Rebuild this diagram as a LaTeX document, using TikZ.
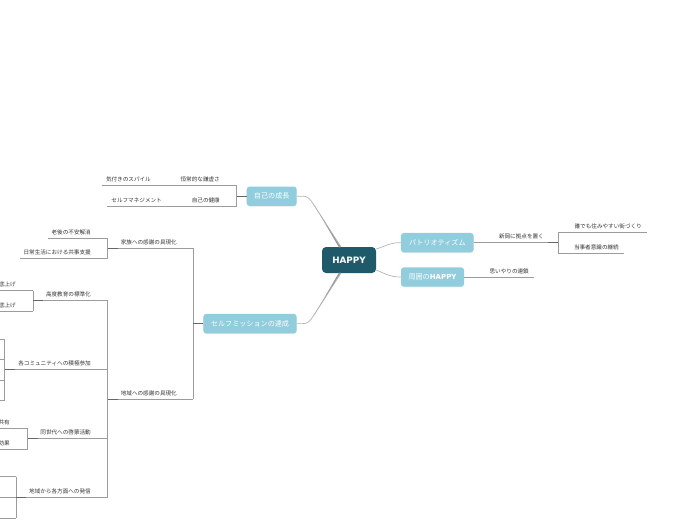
\documentclass[tikz,border=0pt]{standalone}
\usepackage{fontspec}
\setmainfont{Noto Sans CJK JP}
\newfontfamily\latinbold{DejaVu Sans Bold}
\usetikzlibrary{shadows}
\definecolor{roottopic}{HTML}{1F5A6B}
\definecolor{maintopic}{HTML}{91CDDD}
\definecolor{linkgray}{HTML}{B4B4B4}
\definecolor{subline}{HTML}{9C9C9C}
\definecolor{stubline}{HTML}{666666}
\tikzset{
    root/.style={fill=roottopic,text=white,rounded corners=4pt,inner sep=0pt,font=\fontsize{8.8}{10}\selectfont\latinbold},
    topic/.style={fill=maintopic,text=white,rounded corners=3pt,inner sep=0pt,minimum height=19.4pt,font=\fontsize{7.1}{8}\selectfont,drop shadow={shadow xshift=0pt,shadow yshift=-0.7pt,opacity=.18}},
    leaf/.style={anchor=east,inner sep=0pt,text=black!80,font=\fontsize{5.6}{6}\selectfont},
    branch/.style={draw=subline,line width=0.7pt},
    stub/.style={draw=stubline,line width=0.9pt},
    link/.style={draw=linkgray,line width=0.7pt},
}
\begin{document}
\begin{tikzpicture}[x=1pt,y=-1pt]
    \useasboundingbox (0,0) rectangle (697,520);
    \node[root,minimum width=54pt,minimum height=26pt] (happy) at (349,260) {HAPPY};
    \node[topic,minimum width=72.7pt] (patriot) at (437.3,242.6) {パトリオティズム};
    \node[topic,minimum width=63pt] (around) at (432.5,277) {周囲の{\fontsize{7}{8}\selectfont\latinbold HAPPY}};
    \node[topic,minimum width=50pt] (growth) at (271.7,196.2) {自己の成長};
    \node[topic,minimum width=93.4pt] (mission) at (250,323.6) {セルフミッションの達成};
    % links from the root
    \coordinate (rootNW) at (341,247);
    \coordinate (rootSW) at (341,273);
    \fill[linkgray!85!black] (rootNW) ++(-2,0.5) -- (313,203) -- (rootNW) ++(0.5,0) -- cycle;
    \fill[linkgray!85!black] (rootSW) ++(-2,-0.5) -- (313,317) -- (rootSW) ++(0.5,0) -- cycle;
    \draw[link] (growth.east) -- (303,196.2) .. controls (307,196.2) and (309,198) .. (311,200.5) -- (rootNW);
    \draw[link] (mission.east) -- (303,323.6) .. controls (307,323.6) and (309,322) .. (311,319.5) -- (rootSW);
    \draw[link] (happy.east|-0,249) .. controls (386,246) and (390,242.6) .. (patriot.west);
    \draw[link] (happy.east|-0,270) .. controls (386,274) and (390,277) .. (around.west);
    % brackets: name/x/top/bottom
    \foreach \n/\x/\t/\b in {bGrowth/236.7/185.7/206.3,bMission/193.3/248.3/399,bFamily/107.7/238.3/258.7,bRegion/107.7/300.7/497.3,bCity/558/232.5/253,bLift/33/290.7/311,bCommunity/4.7/339/400,bPeers/27.7/428.3/449,bSend/16/476.7/518} {
        \coordinate (\n t) at (\x,\t);
        \coordinate (\n b) at (\x,\b);
        \draw[branch] (\n t) -- (\n b);
    }
    % underlined texts: name/from/to/y/text end/text
    \foreach \n/\xa/\xb/\y/\xt/\A in {
        spiral/102/236.7/185.7/151/気付きのスパイル,
        humble/102/236.7/185.7/220/恒常的な謙虚さ,
        selfman/107/236.7/206.3/162/セルフマネジメント,
        health/107/236.7/206.3/220/自己の健康,
        family/107.7/193.3/248.3/177/家族への感謝の具現化,
        region/107.7/193.3/399/177/地域への感謝の具現化,
        anxiety/48/107.7/238.3/91/老後の不安解消,
        daily/20/107.7/258.7/91/日常生活における共事支援,
        school/33/107.7/300.7/91/高度教育の標準化,
        community/4.7/107.7/369.3/91/各コミュニティへの積極参加,
        peers/27.7/107.7/438.7/91/同世代への啓蒙活動,
        sending/16/107.7/497.3/91/地域から各方面への発信,
        liftA/0/33/290.7/16/底上げ,
        liftB/0/33/311/16/底上げ,
        share/0/27.7/428.3/10/共有,
        effect/0/27.7/449/10/効果,
        base/473.7/558/242.6/544/新岡に拠点を置く,
        town/558/646.5/232.5/642/誰でも住みやすい街づくり,
        aware/558/623.5/253/619/当事者意識の継続,
        care/464/533.5/277/529/思いやりの連鎖} {
        \coordinate (\n s) at (\xa,\y);
        \coordinate (\n e) at (\xb,\y);
        \draw[branch] (\n s) -- (\n e);
        \node[leaf] (\n) at (\xt,\y-6) {\A};
    }
    % branches at the page edge
    \foreach \n/\x/\y in {edgeA/4.7/339,edgeB/4.7/359,edgeC/4.7/380,edgeD/4.7/400,edgeE/16/476.7,edgeF/16/497.3,edgeG/16/518} {
        \coordinate (\n) at (\x,\y);
        \draw[branch] (0,\y) -- (\n);
    }
    % dark stubs next to each parent
    \draw[stub] (growth.west) -- (236.7,196.2);
    \draw[stub] (mission.west) -- (193.3,323.6);
    \draw[stub] (basee) -- ++(-10,0);
    \draw[stub] (familys) -- ++(10,0);
    \draw[stub] (regions) -- ++(10,0);
    \draw[stub] (schools) -- ++(10,0);
    \draw[stub] (communitys) -- ++(10,0);
    \draw[stub] (peerss) -- ++(10,0);
    \draw[stub] (sendings) -- ++(10,0);
    \end{tikzpicture}
\end{document}
